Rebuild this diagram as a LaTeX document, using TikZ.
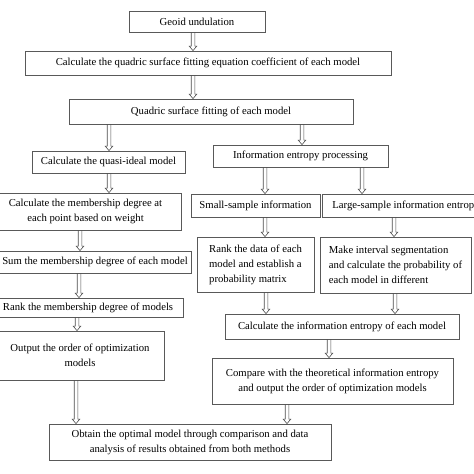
\documentclass[tikz,border=0pt]{standalone}
\usepackage{fontspec}
\setmainfont{Liberation Serif}
\usetikzlibrary{calc, positioning}

\tikzset{
	box/.style={draw=black!65, line width=0.8pt, rectangle, inner sep=1pt, align=center,
		font=\fontsize{10.7}{15}\selectfont, text=black},
	leftbox/.style={box, align=left},
	flowarrow/.style={draw=black!70, line width=0.6pt, line join=miter}
}

% hollow down arrow at x = #1 from node #2 to node #3
\newcommand{\hollowarrow}[3]{%
	\draw[flowarrow] let \p1=(#2.south), \p2=(#3.north), \p3=(#1,0) in
		(\x3-1.8pt,\y1) -- (\x3-1.8pt,\y2+4.5pt) -- (\x3-3.8pt,\y2+4.5pt) -- (\x3,\y2)
		-- (\x3+3.8pt,\y2+4.5pt) -- (\x3+1.8pt,\y2+4.5pt) -- (\x3+1.8pt,\y1);
}

\begin{document}
\begin{tikzpicture}[x=1pt, y=-1pt]
		\useasboundingbox (0,0) rectangle (474,474);

		% Add the boxes
		\node[box, minimum width=136, minimum height=21] (geoid)   at (197,21.5)  {Geoid undulation};
		\node[box, minimum width=366, minimum height=24] (coef)    at (208,63)    {Calculate the quadric surface fitting equation coefficient of each model};
		\node[box, minimum width=284, minimum height=25] (quadric) at (211,111.5) {Quadric surface fitting of each model};

		% left branch
		\node[box, minimum width=153, minimum height=22] (quasi)   at (108.5,162) {Calculate the quasi-ideal model};
		\node[box, minimum width=191, minimum height=37] (member)  at (85.5,211.5) {Calculate the membership degree at\\each point based on weight};
		\node[box, minimum width=192, minimum height=22] (sum)     at (95,262)    {Sum the membership degree of each model};
		\node[box, minimum width=190, minimum height=19] (rankdeg) at (88,307.5)  {Rank the membership degree of models};
		\node[box, minimum width=168, minimum height=49] (output)  at (80,355.5)  {Output the order of optimization\\models};

		% right branch
		\node[box, minimum width=175, minimum height=22] (info)     at (300.5,156)  {Information entropy processing};
		\node[box, minimum width=129, minimum height=23] (small)    at (255.5,205.5) {Small-sample information};
		\node[box, minimum width=168, minimum height=23] (large)    at (406,205.5)  {Large-sample information entropy};
		\node[leftbox, minimum width=117, minimum height=55] (rankdata) at (255.5,264.5) {Rank the data of each\\model and establish a\\probability matrix};
		\node[leftbox, minimum width=151, minimum height=56] (interval) at (395.5,265) {Make interval segmentation\\and calculate the probability of\\each model in different};
		\node[box, minimum width=234, minimum height=25] (calcinfo) at (342,326.5)  {Calculate the information entropy of each model};
		\node[box, minimum width=241, minimum height=46] (compare)  at (332.5,381)  {Compare with the theoretical information entropy\\and output the order of optimization models};

		% final box
		\node[box, minimum width=282, minimum height=36] (final) at (190,442) {Obtain the optimal model through comparison and data\\analysis of results obtained from both methods};

		% Connect the boxes with arrows
		\hollowarrow{193}{geoid}{coef}
		\hollowarrow{193}{coef}{quadric}
		\hollowarrow{109}{quadric}{quasi}
		\hollowarrow{302}{quadric}{info}
		\hollowarrow{109}{quasi}{member}
		\hollowarrow{80}{member}{sum}
		\hollowarrow{79}{sum}{rankdeg}
		\hollowarrow{77}{rankdeg}{output}
		\hollowarrow{76}{output}{final}
		\hollowarrow{265}{info}{small}
		\hollowarrow{362}{info}{large}
		\hollowarrow{265}{small}{rankdata}
		\hollowarrow{394}{large}{interval}
		\hollowarrow{266}{rankdata}{calcinfo}
		\hollowarrow{395}{interval}{calcinfo}
		\hollowarrow{329}{calcinfo}{compare}
		\hollowarrow{287}{compare}{final}
	\end{tikzpicture}
\end{document}
